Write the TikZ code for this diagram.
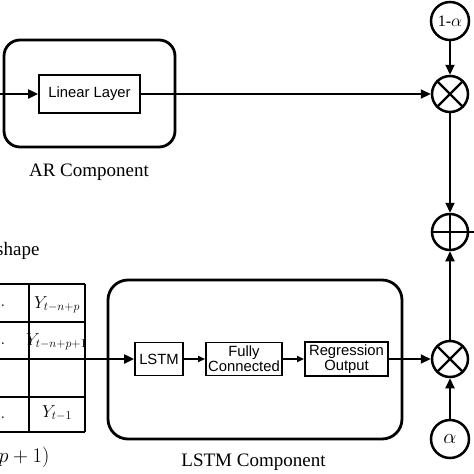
\documentclass[tikz,border=0pt]{standalone}
\usepackage{fontspec}
\setmainfont{Liberation Serif}
\setsansfont{Liberation Sans}
\usetikzlibrary{arrows.meta}
\tikzset{
  layerbox/.style={draw, line width=1.9pt, inner sep=0pt, align=center,
    font=\sffamily\fontsize{14.8}{15}\selectfont},
  compbox/.style={draw, line width=2.8pt, rounded corners=16pt, inner sep=0pt},
  opnode/.style={draw, circle, line width=2.5pt, minimum size=36pt, inner sep=0pt},
  flow/.style={line width=2.2pt, -{Triangle[length=10pt,width=9pt]}},
  smallflow/.style={line width=1.7pt, -{Triangle[length=7pt,width=6pt]}},
  caption/.style={font=\fontsize{19}{22}\selectfont, anchor=base},
  cell/.style={anchor=base, font=\fontsize{16.5}{18}\selectfont},
}
\begin{document}
\begin{tikzpicture}[x=1pt,y=-1pt]
\useasboundingbox (0,0) rectangle (474,474);

% Drawing AR component
\node[compbox, minimum width=171pt, minimum height=107pt] (arbox) at (89.5,93.5) {};
\node[layerbox, minimum width=101pt, minimum height=38pt] (linear) at (89.5,94) {Linear Layer};
\node[caption] (arcap) at (89,176) {AR Component};
\coordinate (arin) at (-5,94);

% Drawing reshaped input table
\node[anchor=base east, font=\fontsize{19}{22}\selectfont] (reshape) at (43,255) {Reshape};
\foreach \y in {284,322,359,397,432}
  \draw[line width=2.2pt] (-20,\y) -- (85,\y);
\draw[line width=2.2pt] (29,284) -- (29,432);
\draw[line width=2.6pt] (85,284) -- (85,432);
\foreach \y/\n in {306/a,344/b,418/c}
  \node[anchor=base east, font=\fontsize{16}{18}\selectfont] (dots\n) at (9,\y) {$\dots$};
\node[cell] (ya) at (57,308) {$Y_{t-n+p}$};
\node[cell] (yb) at (56.5,345) {$Y_{t-n+p+1}$};
\node[cell] (yc) at (57,417) {$Y_{t-1}$};
\node[anchor=base east, font=\fontsize{22}{24}\selectfont] (dims) at (53,462) {$(n-p)\times(p+1)$};
\coordinate (tab) at (85,359);

% Drawing LSTM component
\node[compbox, rounded corners=20pt, minimum width=294pt, minimum height=159pt] (lstmbox) at (255,359.5) {};
\node[layerbox, minimum width=48pt, minimum height=33pt] (lstm) at (159,359) {LSTM};
\node[layerbox, minimum width=76pt, minimum height=33pt] (fc) at (244,359) {Fully\\Connected};
\node[layerbox, minimum width=83pt, minimum height=34pt] (reg) at (346.5,359) {Regression\\Output};
\node[caption] (lstmcap) at (253.5,466) {LSTM Component};

% Drawing weighting and sum
\node[opnode, minimum size=38pt, font=\fontsize{16}{18}\selectfont] (wa) at (450,21) {1-$\alpha$};
\node[opnode] (mula) at (450,94) {};
\node[opnode] (sum) at (450,232) {};
\node[opnode] (mulb) at (450,359) {};
\node[opnode, minimum size=38pt, font=\fontsize{20}{22}\selectfont] (wb) at (450,439) {$\alpha$};
\draw[line width=2.3pt] (mula.north west) -- (mula.south east) (mula.north east) -- (mula.south west);
\draw[line width=2.3pt] (mulb.north west) -- (mulb.south east) (mulb.north east) -- (mulb.south west);
\draw[line width=2.3pt] (sum.north) -- (sum.south);
\coordinate (out) at (480,232);
\draw[line width=2.3pt] (sum.west) -- (out);

% Drawing connections
\draw[flow] (arin) -- (linear);
\draw[flow] (linear) -- (mula);
\draw[flow] (wa) -- (mula);
\draw[flow] (mula) -- (sum);
\draw[flow] (mulb) -- (sum);
\draw[flow] (wb) -- (mulb);
\draw[flow] (tab) -- (lstm.west |- tab);
\draw[smallflow] (lstm) -- (fc);
\draw[smallflow] (fc) -- (reg);
\draw[flow] (reg) -- (mulb);
\end{tikzpicture}
\end{document}
